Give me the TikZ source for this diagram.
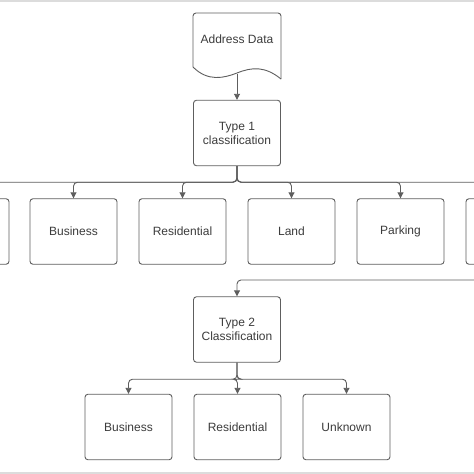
\documentclass[tikz,border=0pt]{standalone}
\usepackage{fontspec}
\setmainfont{Liberation Sans}
\usetikzlibrary{arrows.meta}
\definecolor{linec}{HTML}{5E5E5E}
\definecolor{textc}{HTML}{3C3C3C}
\definecolor{bandc}{HTML}{DCDCDC}
\tikzset{
  boxn/.style={draw=linec, line width=0.9pt, rounded corners=3pt, minimum width=87pt, minimum height=65.5pt, inner sep=0pt, align=center, font=\fontsize{12}{14}\selectfont, text=textc},
  txt/.style={inner sep=0pt, align=center, font=\fontsize{12}{14}\selectfont, text=textc},
  conn/.style={draw=linec, line width=0.9pt, rounded corners=4pt, -{Triangle[length=6pt,width=6pt]}}
}
\begin{document}
\begin{tikzpicture}[x=1pt,y=-1pt]
\useasboundingbox (0,0) rectangle (474,474);
\clip (0,0) rectangle (474,474);
\fill[white] (0,0) rectangle (474,474);
\fill[bandc] (0,0) rectangle (474,2);
\fill[bandc] (0,471.5) rectangle (474,474);
% document shape
\draw[linec, line width=0.9pt, rounded corners=3pt] (193,67) -- (193,13) -- (281,13) -- (281,79);
\draw[linec, line width=0.9pt] (193,67) .. controls (208,82) and (224,78) .. (237,73) .. controls (252,67) and (265,66) .. (281,79);
\node[txt] (addr) at (237,39.5) {Address Data};
\coordinate (addrb) at (237,73.5);
% type 1
\node[boxn] (t1) at (237,133) {Type 1\\classification};
\draw[conn] (addrb) -- (t1.north);
% row 1
\node[boxn] (xl) at (-34.5,231.5) {};
\node[boxn] (b1) at (73.5,231.5) {Business};
\node[boxn] (r1) at (182.5,231.5) {Residential};
\node[boxn] (l1) at (291.5,231.5) {Land};
\node[boxn] (p1) at (400.5,231.5) {Parking};
\node[boxn] (xr) at (509.5,231.5) {};
\foreach \c in {xl,b1,r1,l1,p1,xr}{
  \draw[conn] (t1.south) -- ++(0,16) -| (\c.north);
}
% type 2
\node[boxn] (t2) at (237,329.5) {Type 2\\Classification};
\coordinate (in2) at (490,280);
\draw[conn] (in2) -| (t2.north);
% row 2
\node[boxn] (b2) at (128.5,427) {Business};
\node[boxn] (r2) at (237.5,427) {Residential};
\node[boxn] (u2) at (346.5,427) {Unknown};
\foreach \c in {b2,r2,u2}{
  \draw[conn] (t2.south) -- ++(0,16.5) -| (\c.north);
}
\end{tikzpicture}
\end{document}
